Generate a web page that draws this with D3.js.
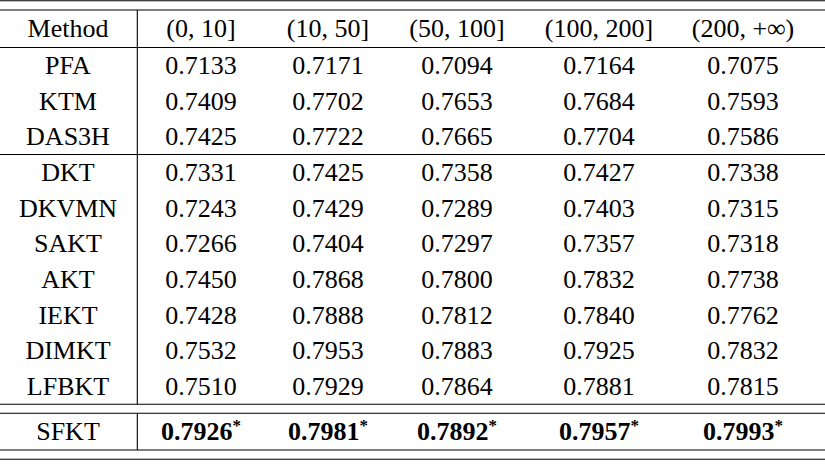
<!DOCTYPE html>
<html>
<head>
<meta charset="utf-8">
<script src="https://cdn.jsdelivr.net/npm/d3@7"></script>
<style>
  html, body { margin: 0; padding: 0; background: #fff; }
  svg { display: block; }
</style>
</head>
<body>
<svg id="chart" width="825" height="464"></svg>
<script>
// ---- data ----
const columns = ["Method", "(0, 10]", "(10, 50]", "(50, 100]", "(100, 200]", "(200, +\u221E)"];
const methods = ["PFA", "KTM", "DAS3H", "DKT", "DKVMN", "SAKT", "AKT", "IEKT", "DIMKT", "LFBKT"];
const ours = "SFKT";
const bin0_10    = [0.7133, 0.7409, 0.7425, 0.7331, 0.7243, 0.7266, 0.7450, 0.7428, 0.7532, 0.7510];
const bin10_50   = [0.7171, 0.7702, 0.7722, 0.7425, 0.7429, 0.7404, 0.7868, 0.7888, 0.7953, 0.7929];
const bin50_100  = [0.7094, 0.7653, 0.7665, 0.7358, 0.7289, 0.7297, 0.7800, 0.7812, 0.7883, 0.7864];
const bin100_200 = [0.7164, 0.7684, 0.7704, 0.7427, 0.7403, 0.7357, 0.7832, 0.7840, 0.7925, 0.7881];
const bin200_inf = [0.7075, 0.7593, 0.7586, 0.7338, 0.7315, 0.7318, 0.7738, 0.7762, 0.7832, 0.7815];
const oursValues = [0.7926, 0.7981, 0.7892, 0.7957, 0.7993];
const groupBreakAfter = "DAS3H";

// ---- layout ----
const W = 825, H = 464;
const FONT = '"Liberation Serif"';
const svg = d3.select("#chart");
svg.append("rect").attr("width", W).attr("height", H).attr("fill", "#fff");

const FS = 26;
const capHalf = 8.5;
const x = d3.scaleOrdinal().domain(columns).range([68, 201, 328, 457, 599, 743]);
const yHead = d3.scaleBand().domain(["head"]).range([10, 47.5]);
const yBody = d3.scaleBand().domain(methods).range([47.5, 404.3]);
const yOurs = d3.scaleBand().domain([ours]).range([413.3, 450]);

const bins = [bin0_10, bin10_50, bin50_100, bin100_200, bin200_inf];
const fmt = d3.format(".4f");

function txt(sel) {
  return sel.attr("text-anchor", "middle").attr("font-size", FS)
    .style("font-family", FONT).attr("fill", "#000");
}

// header
svg.append("g").selectAll("text").data(columns).join("text")
  .attr("x", d => x(d))
  .attr("y", yHead("head") + yHead.bandwidth() / 2 + capHalf)
  .call(txt)
  .text(d => d);

// body rows
const rows = svg.append("g").selectAll("g").data(methods).join("g")
  .attr("transform", d => `translate(0,${yBody(d) + yBody.bandwidth() / 2 + capHalf})`);
rows.append("text")
  .attr("x", x(columns[0]))
  .call(txt)
  .text(d => d);
rows.selectAll("text.v").data((m, i) => bins.map((b, j) => ({ v: b[i], col: columns[j + 1] })))
  .join("text").attr("class", "v")
  .attr("x", d => x(d.col))
  .call(txt)
  .text(d => fmt(d.v));

// ours row
const oy = yOurs(ours) + yOurs.bandwidth() / 2 + capHalf;
svg.append("text")
  .attr("x", x(columns[0])).attr("y", oy)
  .call(txt)
  .text(ours);
const ot = svg.append("g").selectAll("text").data(oursValues).join("text")
  .attr("x", (d, j) => x(columns[j + 1]))
  .attr("y", oy)
  .call(txt)
  .attr("font-weight", "bold");
ot.append("tspan").text(d => fmt(d));
ot.append("tspan").attr("dy", -9).attr("font-size", 17).text("*");

// rules
const hl = [0.8, 10, 47.5, yBody(groupBreakAfter) + yBody.bandwidth(), 404.3, 413.3, 450, 459.3];
svg.append("g").selectAll("line").data(hl).join("line")
  .attr("x1", 0).attr("x2", W)
  .attr("y1", d => d).attr("y2", d => d)
  .attr("stroke", "#000").attr("stroke-width", 1.1);
svg.append("g").selectAll("line").data([[10, 404.3], [413.3, 450]]).join("line")
  .attr("x1", 137.3).attr("x2", 137.3)
  .attr("y1", d => d[0]).attr("y2", d => d[1])
  .attr("stroke", "#000").attr("stroke-width", 1.1);
</script>
</body>
</html>
